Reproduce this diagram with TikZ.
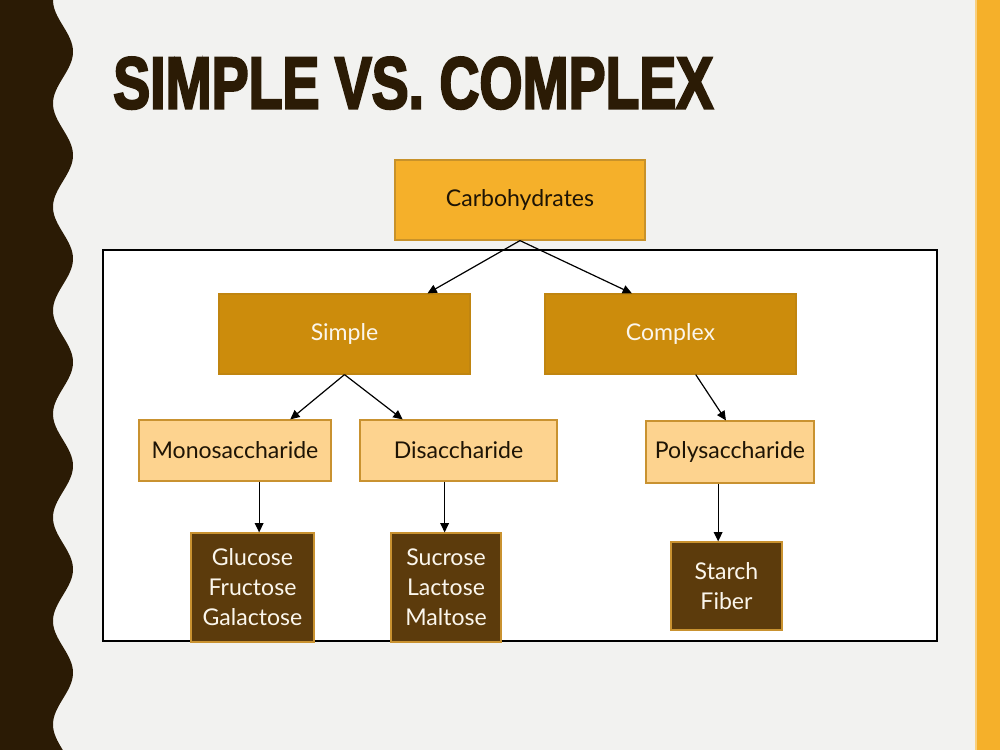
\documentclass[tikz,border=0pt]{standalone}
\usepackage{fontspec}
\setmainfont{Lato}
\newfontfamily\titlefont[BoldFeatures={FakeBold=3.5}]{Liberation Sans}
\usetikzlibrary{arrows.meta,calc}
\definecolor{bg}{HTML}{F2F2F0}
\definecolor{band}{HTML}{2B1B05}
\definecolor{gold}{HTML}{F5B02A}
\definecolor{goldline}{HTML}{C8922A}
\definecolor{mid}{HTML}{CC8C0C}
\definecolor{midline}{HTML}{C08510}
\definecolor{light}{HTML}{FDD38F}
\definecolor{lightline}{HTML}{C99230}
\definecolor{dark}{HTML}{5C3B0C}
\definecolor{ink}{HTML}{1E1405}
\definecolor{paper}{HTML}{FBF6EC}
\tikzset{
  box/.style={draw, rectangle, inner sep=0pt, line width=0.9pt, align=center,
    font=\fontsize{17.3}{22.5}\selectfont},
  topbox/.style={box, fill=gold, draw=goldline, text=ink},
  midbox/.style={box, fill=mid, draw=midline, text=paper},
  lightbox/.style={box, fill=light, draw=lightline, text=ink},
  leafbox/.style={box, fill=dark, draw=lightline, text=paper},
  arr/.style={draw=black, line width=0.9pt, -{Triangle[length=7pt,width=6.5pt]}},
}
\begin{document}
\begin{tikzpicture}[x=0.75pt,y=-0.75pt]
\useasboundingbox (0,0) rectangle (1000,750);
\fill[bg] (0,0) rectangle (1000,750);
% left wavy band
\fill[band] (0,0) -- plot[domain=0:750, samples=300, variable=\t] ({63-10*cos(\t/103.5*360)}, \t) -- (0,750) -- cycle;
% right bar
\fill[gold!60] (975,0) rectangle (977,750);
\fill[gold] (977,0) rectangle (1000,750);
% title
\node[anchor=north west, inner sep=0pt, text=band] (title) at (113,57)
  {\resizebox{450pt}{38.25pt}{\titlefont\bfseries SIMPLE VS. COMPLEX}};
% frame
\draw[fill=white, line width=1pt] (103,250) rectangle (937,641);
% nodes
\node[topbox, minimum width=250*0.75pt, minimum height=80*0.75pt] (carb) at (520,200) {Carbohydrates};
\node[midbox, minimum width=251*0.75pt, minimum height=80*0.75pt] (simple) at (344.5,334) {Simple};
\node[midbox, minimum width=251*0.75pt, minimum height=80*0.75pt] (complex) at (670.5,334) {Complex};
\node[lightbox, minimum width=192*0.75pt, minimum height=61*0.75pt] (mono) at (235,450.5) {Monosaccharide};
\node[lightbox, minimum width=197*0.75pt, minimum height=61*0.75pt] (di) at (458.5,450.5) {Disaccharide};
\node[lightbox, minimum width=168*0.75pt, minimum height=62*0.75pt] (poly) at (730,452) {Polysaccharide};
\node[leafbox, minimum width=123*0.75pt, minimum height=109*0.75pt] (glu) at (252.5,587.5) {Glucose\\Fructose\\Galactose};
\node[leafbox, minimum width=110*0.75pt, minimum height=109*0.75pt] (suc) at (446,587.5) {Sucrose\\Lactose\\Maltose};
\node[leafbox, minimum width=111*0.75pt, minimum height=88*0.75pt] (starch) at (726.5,586) {Starch\\Fiber};
% connectors
\draw[arr] (carb.south) -- ($(simple.north west)!0.829!(simple.north east)$);
\draw[arr] (carb.south) -- ($(complex.north west)!0.347!(complex.north east)$);
\draw[arr] (simple.south) -- ($(mono.north west)!0.786!(mono.north east)$);
\draw[arr] (simple.south) -- ($(di.north west)!0.218!(di.north east)$);
\draw[arr] ($(complex.south west)!0.60!(complex.south east)$) -- ($(poly.north west)!0.476!(poly.north east)$);
\coordinate (m1) at ($(mono.south west)!0.625!(mono.south east)$);
\coordinate (d1) at ($(di.south west)!0.43!(di.south east)$);
\coordinate (p1) at ($(poly.south west)!0.43!(poly.south east)$);
\draw[arr] (m1) -- (m1 |- glu.north);
\draw[arr] (d1) -- (d1 |- suc.north);
\draw[arr] (p1) -- (p1 |- starch.north);
\end{tikzpicture}
\end{document}
